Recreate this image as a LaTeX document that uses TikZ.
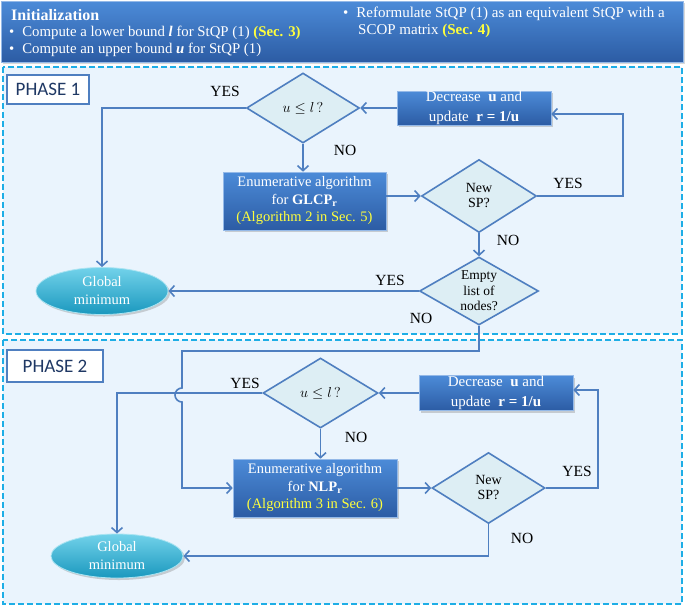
\documentclass[tikz,border=0pt]{standalone}
\usepackage{fontspec}
\setmainfont{Liberation Serif}
\newfontfamily\phasefont{Carlito}
\usetikzlibrary{shapes.geometric,arrows.meta,shadows}

\definecolor{linecol}{HTML}{4F7FC0}
\definecolor{panelcol}{HTML}{EAF4FD}
\definecolor{dashcol}{HTML}{1EAEE6}
\definecolor{boxtop}{HTML}{4C8BD8}
\definecolor{boxbot}{HTML}{2C5CA4}
\definecolor{diafill}{HTML}{DDEEF4}
\definecolor{elltop}{HTML}{72D2EA}
\definecolor{ellbot}{HTML}{1A98BE}
\definecolor{navy}{HTML}{1F3864}
\definecolor{secyellow}{HTML}{FFFF3C}

\tikzset{
  panel/.style={draw=dashcol, fill=panelcol, line width=1.6pt, dash pattern=on 6pt off 3pt},
  phaselabel/.style={draw=linecol, fill=white, line width=1.8pt, text=navy,
    font=\phasefont\fontsize{19}{22}\selectfont, inner sep=0pt},
  initbox/.style={top color=boxtop, bottom color=boxbot, draw=boxtop!60!white, line width=0.6pt,
    drop shadow={opacity=0.3, shadow xshift=1.5pt, shadow yshift=-1.5pt}, inner sep=0pt},
  inittext/.style={text=white, anchor=west, inner sep=0pt, font=\rmfamily\fontsize{14.8}{17}\selectfont},
  algbox/.style={top color=boxtop, bottom color=boxbot, draw=boxtop!60!white, line width=0.6pt,
    drop shadow={opacity=0.35, shadow xshift=2pt, shadow yshift=-2pt}, text=white, align=center,
    inner sep=0pt},
  test/.style={diamond, draw=linecol, fill=diafill, line width=1.6pt, inner sep=0pt, aspect=1.7,
    align=center, font=\rmfamily\fontsize{14}{15}\selectfont},
  goal/.style={ellipse, top color=elltop, bottom color=ellbot, draw=elltop!60!white, line width=0.8pt,
    drop shadow={opacity=0.35, shadow xshift=2pt, shadow yshift=-2pt}, text=white, align=center,
    inner sep=0pt, minimum width=132pt, font=\rmfamily\fontsize{14.5}{18}\selectfont},
  link/.style={draw=linecol, line width=1.6pt},
  flow/.style={link, -{Straight Barb[length=5pt,width=11pt]}},
  ans/.style={font=\rmfamily\fontsize{15.5}{17}\selectfont, inner sep=0pt}
}

\begin{document}
\begin{tikzpicture}[x=1pt, y=-1pt]
\useasboundingbox (0,0) rectangle (685,606);

% initialization banner
\node[initbox, minimum width=682pt, minimum height=61pt] (init) at (342,31.5) {};
\node[inittext, font=\rmfamily\bfseries\fontsize{16}{18}\selectfont] (inittitle) at (11,15) {Initialization};
\node[inittext] (lower) at (9,33) {\textbullet\hspace{8pt}Compute a lower bound \textbf{\textit{l}} for StQP (1) \textcolor{secyellow}{\textbf{(Sec. 3)}}};
\node[inittext] (upper) at (9,50) {\textbullet\hspace{8pt}Compute an upper bound \textbf{\textit{u}} for StQP (1)};
\node[inittext, font=\rmfamily\fontsize{15}{17}\selectfont] (reform) at (343,14) {\textbullet\hspace{8pt}Reformulate StQP (1) as an equivalent StQP with a};
\node[inittext, font=\rmfamily\fontsize{15}{17}\selectfont] (scop) at (358,31) {SCOP matrix \textcolor{secyellow}{\textbf{(Sec. 4)}}};

% the two phases
\draw[panel] (3,67) rectangle (682,334);
\draw[panel] (3,340) rectangle (682,604);
\node[phaselabel, minimum width=82pt, minimum height=29pt] (ph1) at (48,89.5) {PHASE 1};
\node[phaselabel, minimum width=96pt, minimum height=32pt] (ph2) at (55,366) {PHASE 2};

% phase 1
\node[test, minimum width=113pt, minimum height=70pt] (test1) at (303,108) {$u\leq l\,?$};
\node[algbox, minimum width=154pt, minimum height=34pt, font=\rmfamily\fontsize{15}{20}\selectfont] (dec1) at (474,108) {Decrease \ \textbf{u} and\\update \ \textbf{r = 1/u}};
\node[algbox, minimum width=163pt, minimum height=58pt, font=\rmfamily\fontsize{14.5}{17.5}\selectfont] (enum1) at (304.5,201) {Enumerative algorithm\\for \textbf{GLCP}$_{\mathbf{r}}$\\\textcolor{secyellow}{(Algorithm 2 in Sec. 5)}};
\node[test, minimum width=115pt, minimum height=73pt] (sp1) at (479,196) {New\\SP?};
\node[test, minimum width=119pt, minimum height=68pt, font=\rmfamily\fontsize{13.5}{15.5}\selectfont] (empty) at (479,291) {Empty\\list of\\nodes?};
\node[goal, minimum height=47pt] (glob1) at (102,291) {Global\\minimum};

\coordinate (back1) at (623,114);
\draw[flow] (dec1.west) -- (test1.east);
\draw[flow] (test1.west) -| (glob1.north);
\draw[flow] (test1.south) -- (test1.south |- enum1.north);
\draw[flow] (enum1.east |- sp1.west) -- (sp1.west);
\draw[flow] (sp1.east) -| (back1) -- (dec1.east |- back1);
\draw[flow] (sp1.south) -- (empty.north);
\draw[flow] (empty.west) -- (glob1.east);

\node[ans] (yes1) at (225,91) {YES};
\node[ans] (no1) at (345,150) {NO};
\node[ans] (yes2) at (568,183) {YES};
\node[ans] (no2) at (508,240) {NO};
\node[ans] (yes3) at (390,280) {YES};
\node[ans] (no3) at (421,318) {NO};

% phase 2
\node[test, minimum width=115pt, minimum height=70pt] (test2) at (320.5,393) {$u\leq l\,?$};
\node[algbox, minimum width=154pt, minimum height=35pt, font=\rmfamily\fontsize{15}{20}\selectfont] (dec2) at (496,393) {Decrease \ \textbf{u} and\\update \ \textbf{r = 1/u}};
\node[algbox, minimum width=164pt, minimum height=58pt, font=\rmfamily\fontsize{14.5}{17.5}\selectfont] (enum2) at (315,488) {Enumerative algorithm\\for \textbf{NLP}$_{\mathbf{r}}$\\\textcolor{secyellow}{(Algorithm 3 in Sec. 6)}};
\node[test, minimum width=113pt, minimum height=71pt] (sp2) at (488.5,488) {New\\SP?};
\node[goal, minimum height=44pt] (glob2) at (117,556) {Global\\minimum};

\coordinate (turn) at (182,351);
\coordinate (hop) at (182,388);
\coordinate (back2) at (598,390);
\draw[flow] (empty.south) |- (turn) -- (hop) arc[start angle=90, end angle=270, radius=7pt] |- (enum2.west);
\draw[flow] (dec2.west) -- (test2.east);
\draw[flow] (test2.west) -| (glob2.north);
\draw[flow] (test2.south) -- (test2.south |- enum2.north);
\draw[flow] (enum2.east |- sp2.west) -- (sp2.west);
\draw[flow] (sp2.east) -| (back2) -- (dec2.east |- back2);
\draw[flow] (sp2.south) |- (glob2.east);

\node[ans] (yes4) at (245,383) {YES};
\node[ans] (no4) at (356,437) {NO};
\node[ans] (yes5) at (577,471) {YES};
\node[ans] (no5) at (522,538) {NO};
\end{tikzpicture}
\end{document}
